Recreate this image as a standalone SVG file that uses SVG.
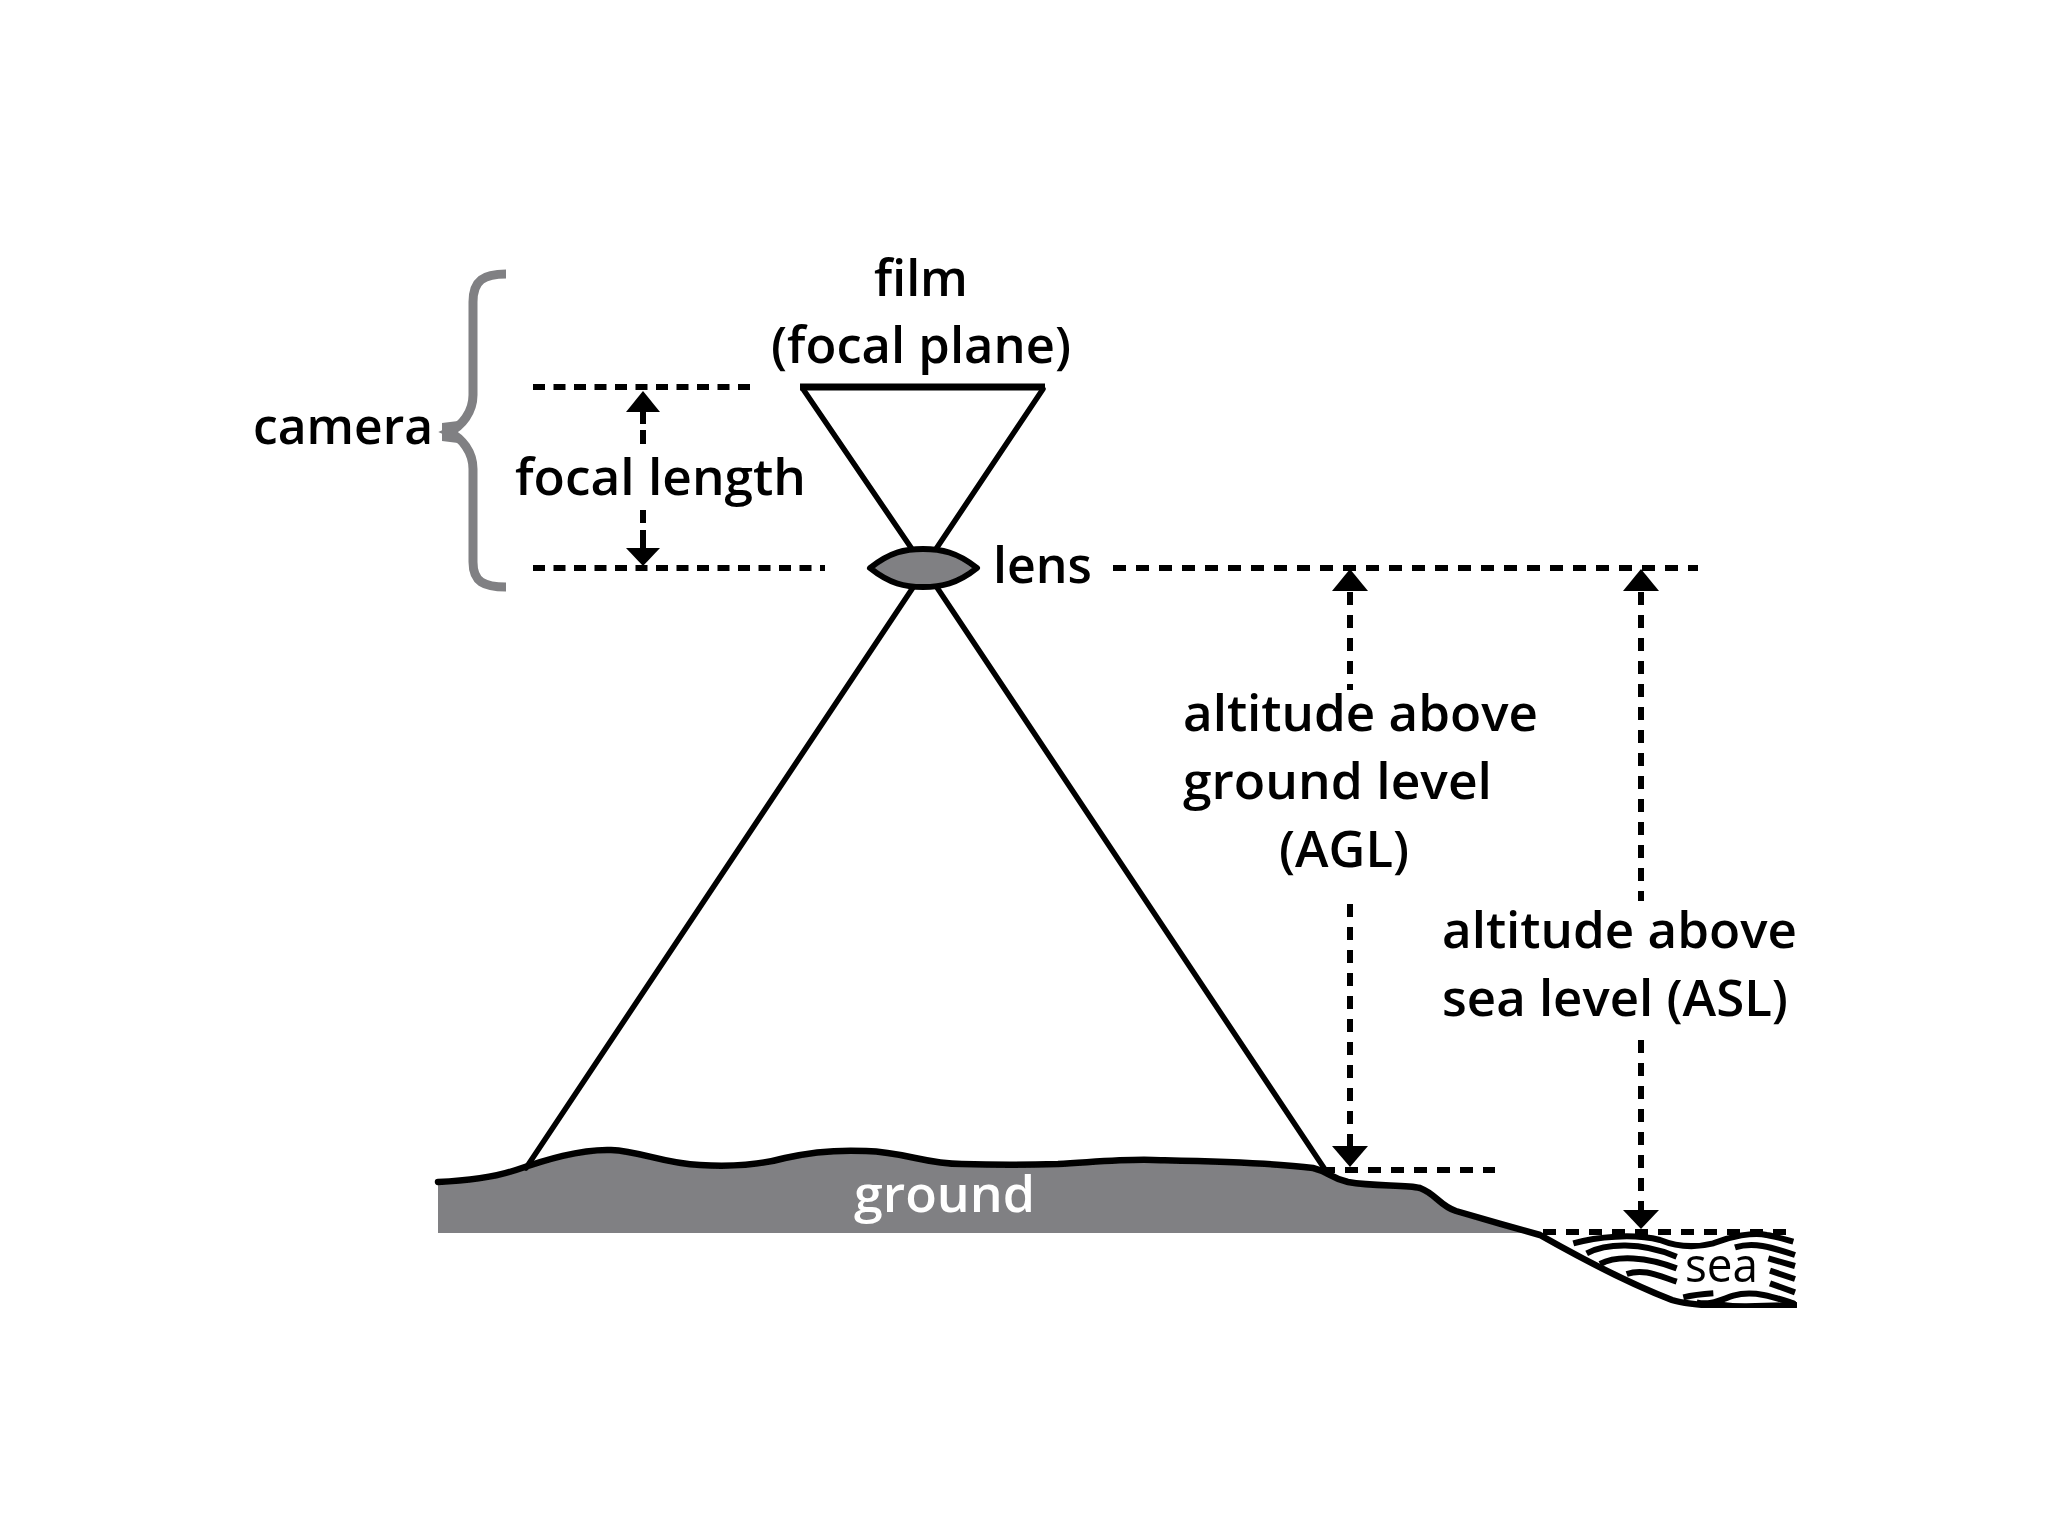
<svg xmlns="http://www.w3.org/2000/svg" width="2048" height="1536" viewBox="0 0 2048 1536">
<style>
text{font-family:"Open Sans","Noto Sans","Liberation Sans",sans-serif;font-weight:600;font-size:51px;fill:#000}
.ln{fill:none;stroke:#000;stroke-width:5.5;stroke-linecap:round;stroke-linejoin:round}
.gl{fill:none;stroke:#000;stroke-width:6.5;stroke-linecap:round;stroke-linejoin:round}
.d{fill:none;stroke:#000;stroke-width:6;stroke-dasharray:13 10}
.d2{fill:none;stroke:#000;stroke-width:6;stroke-dasharray:12 8.5}
.h{fill:#000}
.w{fill:none;stroke:#000;stroke-width:18;stroke-linecap:butt}
</style>
<defs><filter id="soft" x="0" y="0" width="100%" height="100%"><feGaussianBlur stdDeviation="0.7"/></filter></defs>
<rect width="2048" height="1536" fill="#fff"/>
<g filter="url(#soft)">
<g id="ground">
<path d="M438 1182 C465 1181 495 1177 516 1170 C545 1160 580 1149 611 1150 C640 1151 665 1164 700 1165 C735 1167 760 1165 785 1158 C815 1151 845 1150 866 1151 C905 1152 925 1164 962 1164 C995 1165 1025 1165 1058 1164 C1095 1162 1125 1159 1153 1160 C1200 1161 1270 1162 1313 1168 C1330 1172 1330 1178 1348 1182 C1375 1187 1405 1184 1420 1188 C1436 1194 1440 1206 1456 1211 C1480 1218 1505 1226 1530 1233 L438 1233 Z" fill="#808083"/>
<path class="gl" d="M438 1182 C465 1181 495 1177 516 1170 C545 1160 580 1149 611 1150 C640 1151 665 1164 700 1165 C735 1167 760 1165 785 1158 C815 1151 845 1150 866 1151 C905 1152 925 1164 962 1164 C995 1165 1025 1165 1058 1164 C1095 1162 1125 1159 1153 1160 C1200 1161 1270 1162 1313 1168 C1330 1172 1330 1178 1348 1182 C1375 1187 1405 1184 1420 1188 C1436 1194 1440 1206 1456 1211 C1480 1218 1515 1228 1540 1235 C1570 1252 1620 1280 1672 1300 C1690 1306 1740 1308 1795 1305"/>
</g>
<g id="sea" transform="translate(1400 1140) scale(.33333)">
<path class="w" d="M520 310 C590 290 700 280 780 300 C830 320 880 325 940 310 C990 290 1060 275 1100 285 C1130 290 1155 298 1180 305"/>
<path class="w" d="M560 340 C620 310 720 305 830 350"/>
<path class="w" d="M600 372 C650 345 740 350 830 385"/>
<path class="w" d="M680 402 C730 385 770 405 830 425"/>
<path class="w" d="M1005 322 C1060 305 1110 320 1185 345"/>
<path class="w" d="M1105 355 L1185 378 M1110 392 L1185 417 M1110 430 L1185 457"/>
<path class="w" d="M850 472 C880 465 910 462 940 460"/>
<path class="w" d="M890 487 C930 497 960 480 1000 467 C1060 450 1120 470 1185 492"/>
<path class="w" d="M950 492 C1020 505 1120 505 1185 490"/>
</g>
<g id="rays">
<path class="ln" d="M803 389 L914 552 M1043 389 L934 552 M914 586 L526 1168 M936 586 L1324 1168"/>
<path d="M800 387 H1045" fill="none" stroke="#000" stroke-width="7"/>
</g>
<g id="lens">
<path d="M870 568 C890 552 905 549 923 549 C941 549 957 552 977 568 C957 584 941 587 923 587 C905 587 890 584 870 568 Z" fill="#808083" stroke="#000" stroke-width="6" stroke-linejoin="round"/>
</g>
<g id="brace">
<path d="M506 274 C484 274 473 280 473 302 L473 395 C473 412 462 426 449 432 C462 438 473 452 473 469 L473 562 C473 582 484 587 506 587" fill="none" stroke="#808083" stroke-width="9"/>
<path d="M442 423 L458 421 L458 443 L442 441 Z" fill="#808083"/>
</g>
<g id="connectors">
<path class="d2" d="M533 387 H751"/>
<path class="d2" d="M533 568 H825"/>
<path class="d" d="M1113 568 H1698"/>
<path class="d" d="M1322 1170 H1495"/>
<path class="d" d="M1543 1232 H1792"/>
<path d="M643 410 V424 M643 430 V444 M643 510 V523 M643 530 V550" fill="none" stroke="#000" stroke-width="6"/>
<path class="d" d="M1350 592 V690 M1350 904 V1146"/>
<path class="d" d="M1641 592 V901 M1641 1040 V1212"/>
<path class="h" d="M643 391 L660 412 H626 Z"/>
<path class="h" d="M643 566 L660 548 H626 Z"/>
<path class="h" d="M1350 569 L1368 591 H1332 Z"/>
<path class="h" d="M1350 1167 L1368 1146 H1332 Z"/>
<path class="h" d="M1641 569 L1659 591 H1623 Z"/>
<path class="h" d="M1641 1229 L1659 1210 H1623 Z"/>
</g>
<g id="labels">
<text x="874" y="296" textLength="94" lengthAdjust="spacingAndGlyphs">film</text>
<text x="771" y="363" textLength="300" lengthAdjust="spacingAndGlyphs">(focal plane)</text>
<text x="253" y="444" textLength="180" lengthAdjust="spacingAndGlyphs">camera</text>
<text x="515" y="495" textLength="291" lengthAdjust="spacingAndGlyphs">focal length</text>
<text x="993" y="583" textLength="99" lengthAdjust="spacingAndGlyphs">lens</text>
<text x="1183" y="731" textLength="355" lengthAdjust="spacingAndGlyphs">altitude above</text>
<text x="1183" y="799" textLength="309" lengthAdjust="spacingAndGlyphs">ground level</text>
<text x="1279" y="867" textLength="130" lengthAdjust="spacingAndGlyphs">(AGL)</text>
<text x="1442" y="948" textLength="355" lengthAdjust="spacingAndGlyphs">altitude above</text>
<text x="1442" y="1016" textLength="346" lengthAdjust="spacingAndGlyphs">sea level (ASL)</text>
<text x="854" y="1212" textLength="181" lengthAdjust="spacingAndGlyphs" style="fill:#fff">ground</text>
<text x="1685" y="1282" textLength="73" lengthAdjust="spacingAndGlyphs" style="font-weight:400;font-size:48px">sea</text>
</g>
</g>
</svg>
